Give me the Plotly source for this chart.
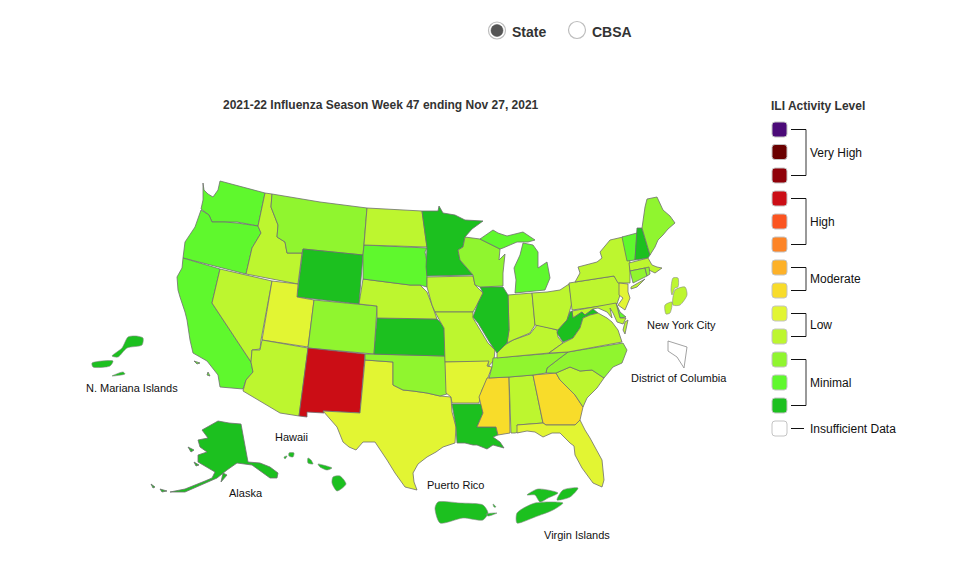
import plotly.graph_objects as go

# ILI level colours, lowest to highest
level_colors = ["#1cc01f", "#5ff82d", "#90f52f", "#bdf62f", "#e2f533", "#f8dc2a",
                "#fdb128", "#fd8426", "#fb5420", "#cb0d15", "#8f0008", "#6a0000", "#4b0a78"]

state_levels = {
    "Washington": 2, "Oregon": 2, "California": 2, "Nevada": 4, "Idaho": 4, "Montana": 3,
    "Wyoming": 1, "Utah": 5, "Colorado": 3, "Arizona": 4, "New Mexico": 10, "Texas": 5,
    "Oklahoma": 3, "Kansas": 1, "Nebraska": 4, "South Dakota": 2, "North Dakota": 4,
    "Minnesota": 1, "Iowa": 4, "Missouri": 4, "Arkansas": 5, "Louisiana": 1, "Mississippi": 6,
    "Alabama": 4, "Georgia": 6, "Florida": 5, "South Carolina": 4, "North Carolina": 3,
    "Tennessee": 3, "Kentucky": 4, "Indiana": 4, "Illinois": 1, "Wisconsin": 3, "Michigan": 2,
    "Ohio": 4, "Pennsylvania": 4, "New York": 4, "New Jersey": 5, "Delaware": 2, "Maryland": 4,
    "West Virginia": 1, "Virginia": 4, "Vermont": 2, "New Hampshire": 1, "Maine": 3,
    "Massachusetts": 4, "Connecticut": 3, "Rhode Island": 3, "Alaska": 1, "Hawaii": 1,
    "N. Mariana Islands": 1, "Puerto Rico": 1, "Virgin Islands": 1, "New York City": 4,
}

# outlines, one list of rings per jurisdiction
outlines = {
    "Washington": [[(203,183),(204,190),(208,194),(213,197),(218,190),(220,181),(265,193),(258,226),(237,222),(224,222),(212,222),(209,215),(201,209),(203,200)]],
    "Oregon": [[(201,210),(209,215),(212,222),(224,222),(237,223),(258,226),(261,233),(252,248),(246,274),(183,258),(185,242),(190,235),(195,227)]],
    "California": [[(183,258),(220,269),(212,303),(251,362),(253,372),(246,380),(243,389),(220,387),(218,375),(207,361),(193,353),(190,340),(187,320),(185,312),(180,297),(178,290),(177,277),(182,268)],
                   [(194,361),(200,363),(197,364)], [(208,372),(210,376),(207,375)]],
    "Nevada": [[(220,269),(272,281),(261,340),(260,349),(252,350),(251,362),(212,303)]],
    "Idaho": [[(265,193),(272,194),(271,207),(278,225),(277,237),(285,242),(287,253),(302,253),(298,284),(246,274),(252,248),(261,233),(258,226)]],
    "Montana": [[(272,194),(320,202),(367,208),(364,245),(363,255),(303,249),(302,253),(287,253),(285,242),(277,237),(278,225),(271,207)]],
    "Wyoming": [[(303,249),(363,255),(359,304),(297,297)]],
    "Utah": [[(272,281),(298,284),(297,297),(314,300),(308,347),(262,340)]],
    "Colorado": [[(314,300),(377,306),(374,354),(308,348)]],
    "Arizona": [[(262,340),(308,348),(299,416),(280,413),(243,391),(246,380),(253,372),(251,362),(252,350),(260,350)]],
    "New Mexico": [[(308,348),(365,354),(360,413),(323,411),(324,413),(307,412),(307,417),(299,416)]],
    "Texas": [[(365,360),(393,362),(393,385),(403,390),(413,391),(427,393),(440,396),(451,397),(452,412),(456,427),(455,443),(443,447),(436,452),(427,457),(418,464),(413,473),(414,482),(417,490),(405,487),(395,473),(387,460),(375,442),(363,442),(356,450),(349,447),(343,442),(337,427),(323,411),(360,413)]],
    "Oklahoma": [[(365,354),(445,356),(446,375),(447,394),(440,396),(427,393),(413,391),(403,390),(393,385),(393,362),(365,360)]],
    "Kansas": [[(377,318),(437,319),(441,323),(444,328),(445,356),(374,354)]],
    "Nebraska": [[(363,279),(410,285),(420,285),(427,292),(432,305),(437,319),(377,318),(377,306),(359,304)]],
    "South Dakota": [[(364,245),(427,248),(425,252),(427,262),(427,287),(420,285),(410,285),(363,279),(363,255)]],
    "North Dakota": [[(367,208),(422,211),(425,233),(427,247),(364,245)]],
    "Minnesota": [[(422,211),(438,211),(439,206),(443,213),(455,215),(465,220),(483,221),(472,229),(465,237),(463,247),(458,250),(460,260),(473,275),(427,276),(426,267),(427,248),(425,233)]],
    "Iowa": [[(427,277),(473,276),(475,285),(483,293),(478,303),(473,312),(435,312),(432,305),(427,287)]],
    "Missouri": [[(435,312),(473,312),(473,318),(480,330),(488,343),(495,350),(494,360),(488,367),(488,362),(445,362),(444,328),(441,323)]],
    "Arkansas": [[(445,362),(489,361),(487,366),(492,367),(487,380),(482,390),(479,403),(452,403),(451,397),(446,393)]],
    "Louisiana": [[(452,404),(482,404),(483,413),(477,427),(496,427),(498,435),(493,437),(500,442),(504,448),(493,445),(487,449),(477,445),(473,445),(465,443),(457,443),(456,427)]],
    "Mississippi": [[(487,378),(509,377),(510,433),(498,435),(496,427),(477,427),(483,413),(479,397)]],
    "Alabama": [[(509,377),(533,375),(543,423),(517,425),(519,432),(515,433),(511,433)]],
    "Georgia": [[(533,375),(556,373),(560,380),(575,395),(583,407),(580,420),(575,425),(546,425),(543,423)]],
    "Florida": [[(517,425),(543,423),(546,425),(575,425),(580,420),(585,430),(590,438),(597,450),(602,460),(604,480),(602,487),(593,483),(582,468),(575,455),(574,446),(570,443),(560,433),(552,433),(543,437),(535,432),(527,431),(517,433)]],
    "South Carolina": [[(556,373),(570,367),(580,371),(592,370),(604,378),(597,388),(587,398),(583,407),(575,395),(560,380)]],
    "North Carolina": [[(568,352),(623,343),(627,350),(624,357),(622,363),(613,367),(604,378),(592,370),(580,371),(570,367),(556,373),(546,373),(547,368),(560,358)]],
    "Tennessee": [[(493,358),(568,352),(560,358),(547,368),(546,373),(533,375),(509,377),(489,378),(492,367)]],
    "Kentucky": [[(497,358),(497,352),(505,345),(513,340),(530,334),(537,325),(550,328),(557,330),(558,337),(563,343),(553,350),(549,353)]],
    "Indiana": [[(508,295),(532,293),(535,325),(530,333),(513,340),(507,343),(509,330)]],
    "Illinois": [[(480,287),(503,287),(508,295),(509,330),(507,343),(497,353),(490,343),(484,333),(478,323),(473,317),(478,303),(483,293)]],
    "Wisconsin": [[(465,237),(480,239),(500,249),(499,260),(505,254),(503,273),(503,286),(480,287),(475,285),(473,275),(460,260),(458,250),(463,247)]],
    "Michigan": [[(523,243),(533,245),(538,252),(538,260),(538,268),(547,262),(550,278),(545,290),(515,293),(516,280),(514,268),(520,255)],
                 [(480,239),(493,230),(498,233),(507,236),(523,232),(535,240),(528,242),(517,242),(503,248),(500,249)]],
    "Ohio": [[(532,293),(547,292),(560,290),(569,284),(572,303),(567,320),(558,330),(550,328),(537,325),(535,325)]],
    "Pennsylvania": [[(569,283),(575,282),(614,276),(618,282),(623,287),(619,298),(617,304),(572,310)]],
    "New York": [[(575,282),(580,273),(578,267),(597,262),(602,258),(600,252),(610,240),(623,237),(630,262),(630,283),(618,283),(614,276)],
                 [(631,287),(645,279),(637,287),(631,289)]],
    "New Jersey": [[(619,283),(628,284),(628,292),(630,298),(625,310),(618,305),(623,298),(619,295)]],
    "Delaware": [[(616,303),(620,312),(626,317),(620,318)]],
    "Maryland": [[(572,311),(616,303),(620,318),(626,318),(623,324),(617,322),(613,313),(610,308),(612,318),(607,312),(598,308),(593,309),(585,315),(582,312),(573,318)]],
    "West Virginia": [[(572,311),(570,312),(567,320),(558,330),(557,333),(563,342),(573,338),(580,328),(583,318),(590,315),(598,313),(593,309),(585,315),(582,312),(573,318)]],
    "Virginia": [[(549,353),(563,343),(573,338),(580,328),(583,318),(590,315),(598,313),(607,318),(612,322),(618,330),(622,342),(568,352)],
                 [(625,322),(628,320),(625,334),(623,330)]],
    "Vermont": [[(622,237),(637,233),(635,260),(627,261)]],
    "New Hampshire": [[(637,228),(642,228),(650,255),(648,258),(635,260)]],
    "Maine": [[(642,228),(645,207),(647,199),(657,197),(663,210),(670,216),(675,223),(668,229),(663,235),(658,240),(655,247),(650,255)]],
    "Massachusetts": [[(629,263),(648,258),(652,265),(657,267),(662,268),(655,273),(645,268),(630,271)]],
    "Connecticut": [[(630,271),(645,268),(647,276),(633,283)]],
    "Rhode Island": [[(645,268),(649,267),(650,274),(647,276)]],
    "Alaska": [[(218,421),(229,423),(241,424),(248,462),(260,463),(270,467),(278,473),(277,478),(270,478),(262,472),(252,465),(237,463),(227,470),(217,478),(205,483),(185,492),(170,492),(185,489),(205,481),(212,478),(215,472),(207,467),(198,462),(198,455),(207,452),(200,447),(198,440),(208,438),(202,430)],
               [(223,473),(227,475),(221,482)], [(188,447),(194,450),(191,452)], [(194,462),(199,465),(196,466)],
               [(151,484),(155,487),(153,488)], [(160,489),(167,491),(162,492)]],
}

# rounder bits, drawn with a spline
island_outlines = {
    "New York City": [[(673,278),(678,278),(678,287),(675,288),(672,295),(671,290)],
                      [(675,290),(685,287),(687,295),(680,305),(673,305)],
                      [(665,305),(672,302),(670,313),(666,314)]],
    "Hawaii": [[(333,477),(340,476),(346,484),(337,491),(332,483)],
               [(318,464),(323,465),(332,468),(327,470),(320,467)],
               [(308,458),(311,460),(313,464),(308,463)],
               [(289,453),(294,453),(293,457),(289,456)], [(284,457),(287,456),(285,459)]],
    "N. Mariana Islands": [[(128,337),(136,336),(143,338),(142,345),(127,348),(118,357),(112,356),(122,348)],
                           [(92,363),(113,361),(110,366),(93,367)], [(112,376),(123,372),(125,374)]],
    "Puerto Rico": [[(438,502),(460,503),(483,505),(488,513),(483,520),(463,518),(440,523),(435,508)],
                    [(486,514),(497,513),(488,516)], [(493,504),(496,507),(494,507)]],
    "Virgin Islands": [[(517,513),(535,503),(563,503),(553,510),(535,517),(517,523)],
                       [(527,495),(538,489),(558,493),(548,498),(540,502),(535,495)],
                       [(557,500),(563,490),(578,488),(570,497)]],
}

dc_outline = [(668,341),(687,347),(684,368),(677,357),(668,351)]

map_labels = ["N. Mariana Islands", "New York City", "District of Columbia", "Hawaii",
              "Alaska", "Puerto Rico", "Virgin Islands"]
map_label_x = [86, 647, 631, 275, 229, 427, 544]
map_label_y = [388, 325, 378, 437, 493, 485, 535]

swatch_y = [129.5, 152, 175.5, 198.5, 221.5, 244.5, 267.5, 290.5, 313.5, 336.5, 359.5, 382.5, 405.5, 428.5]
swatch_colors = level_colors[::-1] + ["#ffffff"]
group_names = ["Very High", "High", "Moderate", "Low", "Minimal"]
group_top = [129.5, 198.5, 267.5, 313.5, 359.5]
group_bottom = [175.5, 244.5, 290.5, 336.5, 405.5]
group_label_y = [153, 222, 279, 325, 383]

font_name = "Liberation Sans"


def ring_xy(rings):
    xs, ys = [], []
    for ring in rings:
        xs += [p[0] for p in ring] + [ring[0][0], None]
        ys += [p[1] for p in ring] + [ring[0][1], None]
    return xs, ys


def rounded_box(x0, y0, x1, y1, r):
    return ("M {} {} L {} {} Q {} {} {} {} L {} {} Q {} {} {} {} L {} {} Q {} {} {} {} L {} {} Q {} {} {} {} Z"
            .format(x0+r, y0, x1-r, y0, x1, y0, x1, y0+r, x1, y1-r, x1, y1, x1-r, y1,
                    x0+r, y1, x0, y1, x0, y1-r, x0, y0+r, x0, y0, x0+r, y0))


fig = go.Figure()

for name, rings in outlines.items():
    xs, ys = ring_xy(rings)
    fig.add_trace(go.Scatter(x=xs, y=ys, mode="lines", fill="toself", name=name,
                             fillcolor=level_colors[state_levels[name]-1],
                             line=dict(color="#6f6f6f", width=0.8), hoverinfo="name"))

for name, rings in island_outlines.items():
    xs, ys = ring_xy(rings)
    fig.add_trace(go.Scatter(x=xs, y=ys, mode="lines", fill="toself", name=name,
                             fillcolor=level_colors[state_levels[name]-1],
                             line=dict(color="#8a8a8a", width=0.6, shape="spline", smoothing=0.7),
                             hoverinfo="name"))

xs, ys = ring_xy([dc_outline])
fig.add_trace(go.Scatter(x=xs, y=ys, mode="lines", fill="toself", name="District of Columbia",
                         fillcolor="#ffffff", line=dict(color="#8a8a8a", width=0.8), hoverinfo="name"))

# legend swatches
for y, color in zip(swatch_y, swatch_colors):
    fig.add_shape(type="path", path=rounded_box(772, y-7.5, 787, y+7.5, 3), fillcolor=color,
                  line=dict(color="#c4c4c4", width=1))

# legend brackets
for top, bottom in zip(group_top, group_bottom):
    fig.add_shape(type="line", x0=806, x1=806, y0=top, y1=bottom, line=dict(color="#777777", width=1.5))
    fig.add_shape(type="line", x0=791, x1=806, y0=top, y1=top, line=dict(color="#111111", width=1))
    fig.add_shape(type="line", x0=791, x1=806, y0=bottom, y1=bottom, line=dict(color="#111111", width=1))
fig.add_shape(type="line", x0=791, x1=804, y0=428.5, y1=428.5, line=dict(color="#111111", width=1))

# radio buttons
fig.add_shape(type="circle", x0=488.5, x1=505.5, y0=22, y1=39, fillcolor="#ffffff", line=dict(color="#bdbdbd", width=1.2))
fig.add_shape(type="circle", x0=491, x1=503, y0=24.5, y1=36.5, fillcolor="#555555", line=dict(color="#444444", width=0.5))
fig.add_shape(type="circle", x0=568.5, x1=585.5, y0=21.5, y1=38.5, fillcolor="#ffffff", line=dict(color="#bdbdbd", width=1.2))


def add_text(text, x, y, size=11, color="#111111", anchor="left"):
    fig.add_annotation(text=text, x=x, y=y, xref="x", yref="y", xanchor=anchor, yanchor="middle",
                       xshift=-2 if anchor == "left" else 0, showarrow=False,
                       font=dict(family=font_name, size=size, color=color))


for label, x, y in zip(map_labels, map_label_x, map_label_y):
    add_text(label, x, y)
for label, y in zip(group_names, group_label_y):
    add_text(label, 810, y, size=12)
add_text("Insufficient Data", 810, 429, size=12)
add_text("<b>ILI Activity Level</b>", 771, 106, size=12, color="#333333")
add_text("<b>2021-22 Influenza Season Week 47 ending Nov 27, 2021</b>", 381, 105, size=12, color="#333333", anchor="center")
add_text("<b>State</b>", 512, 32, size=14, color="#333333")
add_text("<b>CBSA</b>", 592, 32, size=14, color="#333333")

fig.update_layout(width=967, height=563, margin=dict(l=0, r=0, t=0, b=0), showlegend=False,
                  paper_bgcolor="white", plot_bgcolor="white",
                  xaxis=dict(range=[0, 967], visible=False, fixedrange=True),
                  yaxis=dict(range=[563, 0], visible=False, fixedrange=True))

fig.write_html("out.html", config=dict(displayModeBar=False),
               post_script="document.body.style.margin='0';")
